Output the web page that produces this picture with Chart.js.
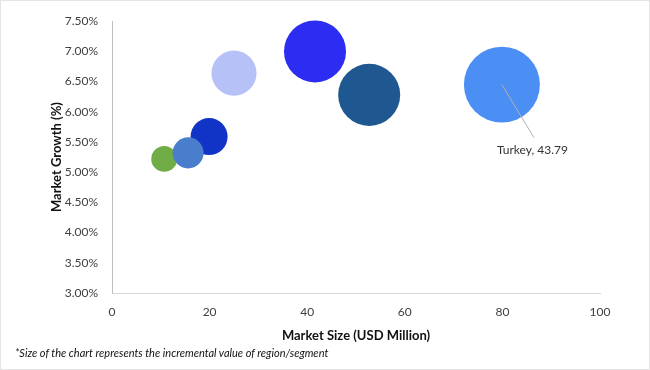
<!DOCTYPE html>
<html>
<head>
<meta charset="utf-8">
<script src="https://cdn.jsdelivr.net/npm/chart.js@4"></script>
<style>
  body { margin: 0; background: #fff; }
  #wrap { position: relative; width: 650px; height: 370px; }
  #frame { position: absolute; left: 0; top: 0; width: 648px; height: 368px; border: 1px solid #e4e4e4; pointer-events: none; }
  #note { position: absolute; left: 15px; top: 346px; font: italic 11px "Liberation Sans Narrow", "Lato", sans-serif; color: #111; }
</style>
</head>
<body>
<div id="wrap">
  <canvas id="chart"></canvas>
  <div id="note">*Size of the chart represents the incremental value of region/segment</div>
  <div id="frame"></div>
</div>
<script>
// data
const regions = ["Region 1", "Region 2", "Region 3", "Region 4", "Region 5", "Region 6", "Turkey"];
const marketSize = [10.7, 19.9, 15.6, 25.0, 41.6, 52.7, 79.9];     // USD Million
const marketGrowth = [5.22, 5.59, 5.32, 6.64, 7.00, 6.28, 6.45];   // %
const incremental = [5.1, 10.4, 7.3, 15.4, 29.2, 29.2, 43.79];     // bubble size value
const bubbleColors = ["#70ad47", "#1234c6", "#4a7dcc", "#b5c1f7", "#2c2cf2", "#1f5891", "#4b8ff5"];
const labelled = "Turkey";

// bubble area proportional to incremental value
const radiusOf = (v) => 5.74 * Math.sqrt(v);

const points = regions.map((name, i) => ({
  x: marketSize[i],
  y: marketGrowth[i],
  r: radiusOf(incremental[i])
}));

// leader line + "Turkey, 43.79"
const calloutPlugin = {
  id: "callout",
  afterDatasetsDraw(chart) {
    const idx = regions.indexOf(labelled);
    const el = chart.getDatasetMeta(0).data[idx];
    if (!el) return;
    const ctx = chart.ctx;
    ctx.save();
    ctx.strokeStyle = "#b0b0b0";
    ctx.lineWidth = 1;
    ctx.beginPath();
    ctx.moveTo(el.x, el.y);
    ctx.lineTo(el.x + 32, el.y + 53);
    ctx.stroke();
    ctx.fillStyle = "#333";
    ctx.font = "12px Lato, sans-serif";
    ctx.textBaseline = "middle";
    ctx.fillText(labelled + ", " + incremental[idx].toFixed(2), el.x - 5, el.y + 66);
    ctx.restore();
  }
};

new Chart(document.getElementById("chart"), {
  type: "bubble",
  data: {
    datasets: [{
      data: points,
      backgroundColor: bubbleColors,
      borderWidth: 0,
      hoverBorderWidth: 0,
      clip: false
    }]
  },
  options: {
    responsive: true,
    maintainAspectRatio: false,
    animation: false,
    layout: { autoPadding: false, padding: { left: 0, top: 20, right: 50, bottom: 25 } },
    plugins: { legend: { display: false }, tooltip: { enabled: false } },
    scales: {
      x: {
        type: "linear",
        min: 0,
        max: 100,
        ticks: { stepSize: 20, padding: 12, color: "#404040", font: { family: "Lato", size: 12 } },
        grid: { display: false, drawTicks: false },
        border: { display: true, color: "#d9d9d9" },
        title: {
          display: true,
          text: "Market Size (USD Million)",
          color: "#111",
          font: { family: "Lato", size: 13, weight: "bold" },
          padding: { top: 0, bottom: 1 }
        },
        afterFit(scale) { scale.height = 52; }
      },
      y: {
        min: 3,
        max: 7.5,
        ticks: {
          stepSize: 0.5,
          padding: 14,
          color: "#404040",
          font: { family: "Lato", size: 12 },
          callback: (v) => v.toFixed(2) + "%"
        },
        grid: { display: false, drawTicks: false },
        border: { display: true, color: "#bfbfbf" },
        title: {
          display: true,
          text: "Market Growth (%)",
          color: "#111",
          font: { family: "Lato", size: 13, weight: "bold" },
          padding: { top: 49, bottom: 0 }
        },
        afterFit(scale) { scale.width = 112; }
      }
    }
  },
  plugins: [calloutPlugin]
});
</script>
</body>
</html>
